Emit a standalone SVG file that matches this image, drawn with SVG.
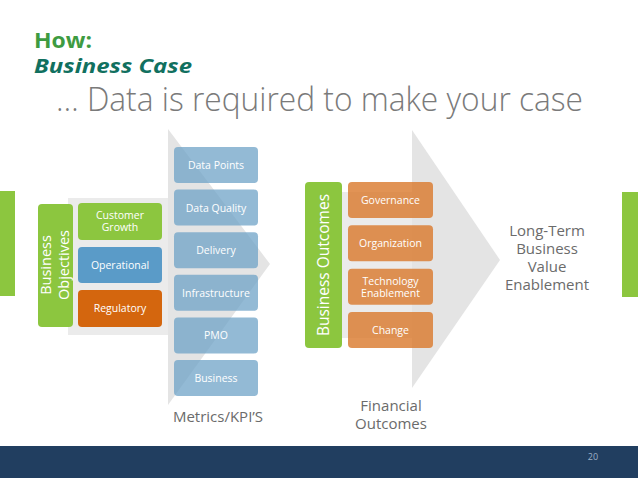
<svg xmlns="http://www.w3.org/2000/svg" width="638" height="478" viewBox="0 0 638 478">
<style>
text{font-family:"Open Sans","Noto Sans","Liberation Sans",sans-serif}
.bx{font-size:10.5px;fill:#ffffff;text-anchor:middle}
.lbl{font-size:15px;fill:#6b6b6b;text-anchor:middle}
.blue{fill:#6fa3c7;opacity:0.75}
.orange{fill:#d9782a;opacity:0.8}
.green{fill:#8cc63f}
.chev{fill:#e4e4e4}
.band{fill:#ebebeb}
</style>
<rect x="0" y="0" width="638" height="478" fill="#ffffff"/>
<g id="title">
<text x="34" y="48" font-size="21" font-weight="bold" fill="#3e9b41" textLength="58" lengthAdjust="spacingAndGlyphs">How:</text>
<text x="34" y="73" font-size="20" font-weight="bold" font-style="italic" fill="#11705f" textLength="158" lengthAdjust="spacingAndGlyphs">Business Case</text>
<text x="56" y="111" font-size="33" font-weight="300" fill="#7a7a7a" textLength="527" lengthAdjust="spacingAndGlyphs">… Data is required to make your case</text>
</g>
<g id="side-bars">
<rect x="0" y="191" width="15" height="105" class="green"/>
<rect x="622" y="192" width="16" height="105" class="green"/>
</g>
<g id="backgrounds">
<rect x="68" y="198" width="104" height="137" class="band"/>
<polygon points="168,129 270,264 168,405" class="chev"/>
<rect x="333" y="192" width="80" height="146" class="band"/>
<polygon points="412,130 500,260 412,388" class="chev"/>
</g>
<g id="business-objectives">
<rect x="38" y="204" width="35" height="123" rx="4" class="green"/>
<text transform="translate(51,265) rotate(-90)" font-size="14.5" fill="#ffffff" text-anchor="middle">Business</text>
<text transform="translate(69,265) rotate(-90)" font-size="14.5" fill="#ffffff" text-anchor="middle">Objectives</text>
</g>
<g id="customer-growth">
<rect x="78" y="203" width="84" height="37" rx="4" fill="#8cc63f"/>
<text x="120" y="219" class="bx">Customer</text>
<text x="120" y="231" class="bx">Growth</text>
</g>
<g id="operational">
<rect x="78" y="247" width="84" height="36" rx="4" fill="#5a9bc8"/>
<text x="120" y="269" class="bx">Operational</text>
</g>
<g id="regulatory">
<rect x="78" y="290" width="84" height="37" rx="4" fill="#d4660e"/>
<text x="120" y="312" class="bx">Regulatory</text>
</g>
<g id="data-points">
<rect x="174" y="147" width="84" height="36" rx="4" class="blue"/>
<text x="216" y="169" class="bx">Data Points</text>
</g>
<g id="data-quality">
<rect x="174" y="189.6" width="84" height="36" rx="4" class="blue"/>
<text x="216" y="211.6" class="bx">Data Quality</text>
</g>
<g id="delivery">
<rect x="174" y="232.2" width="84" height="36" rx="4" class="blue"/>
<text x="216" y="254.2" class="bx">Delivery</text>
</g>
<g id="infrastructure">
<rect x="174" y="274.8" width="84" height="36" rx="4" class="blue"/>
<text x="216" y="296.8" class="bx">Infrastructure</text>
</g>
<g id="pmo">
<rect x="174" y="317.4" width="84" height="36" rx="4" class="blue"/>
<text x="216" y="339.4" class="bx">PMO</text>
</g>
<g id="business">
<rect x="174" y="360" width="84" height="36" rx="4" class="blue"/>
<text x="216" y="382" class="bx">Business</text>
</g>
<g id="metrics-label">
<text x="218" y="422" class="lbl">Metrics/KPI’S</text>
</g>
<g id="business-outcomes">
<rect x="305" y="182" width="37" height="166" rx="4" class="green"/>
<text transform="translate(329,265) rotate(-90)" font-size="15.5" fill="#ffffff" text-anchor="middle">Business Outcomes</text>
</g>
<g id="governance">
<rect x="348" y="182" width="85" height="36" rx="4" class="orange"/>
<text x="390.5" y="204" class="bx">Governance</text>
</g>
<g id="organization">
<rect x="348" y="225.3" width="85" height="36" rx="4" class="orange"/>
<text x="390.5" y="247.3" class="bx">Organization</text>
</g>
<g id="technology-enablement">
<rect x="348" y="268.7" width="85" height="36" rx="4" class="orange"/>
<text x="390.5" y="285" class="bx">Technology</text>
<text x="390.5" y="297" class="bx">Enablement</text>
</g>
<g id="change">
<rect x="348" y="312" width="85" height="36" rx="4" class="orange"/>
<text x="390.5" y="334" class="bx">Change</text>
</g>
<g id="financial-label">
<text x="391" y="411" class="lbl">Financial</text>
<text x="391" y="429" class="lbl">Outcomes</text>
</g>
<g id="long-term">
<text x="547" y="236" class="lbl">Long-Term</text>
<text x="547" y="254" class="lbl">Business</text>
<text x="547" y="272" class="lbl">Value</text>
<text x="547" y="290" class="lbl">Enablement</text>
</g>
<g id="connectors"></g>
<g id="footer">
<rect x="0" y="446" width="638" height="32" fill="#213e60"/>
<text x="593" y="460" font-size="9" fill="#9fb0c6" text-anchor="middle">20</text>
</g>
</svg>
